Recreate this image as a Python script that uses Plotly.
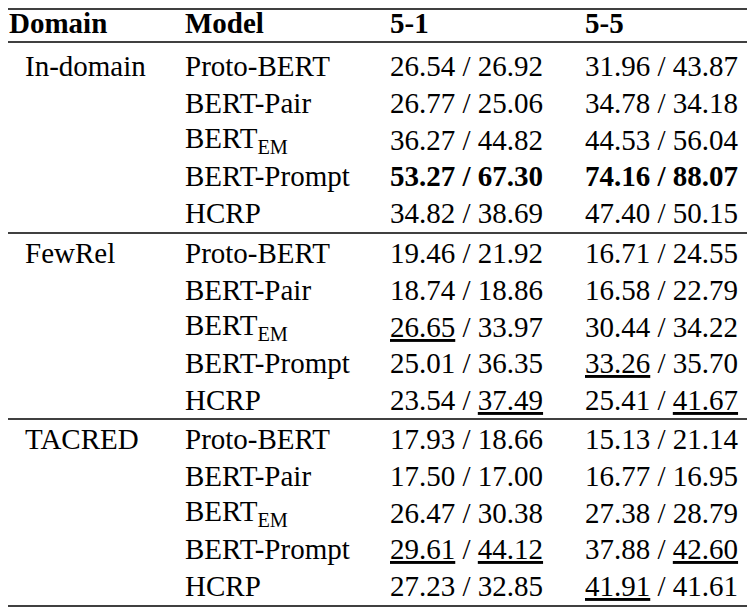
import plotly.graph_objects as go

domains = ["In-domain", "FewRel", "TACRED"]
models = ["Proto-BERT", "BERT-Pair", "BERT<sub>EM</sub>", "BERT-Prompt", "HCRP"]
headers = ["Domain", "Model", "5-1", "5-5"]

# per domain, per model: (5-1 a, 5-1 b, 5-5 a, 5-5 b)
scores = [
    [[26.54, 26.92, 31.96, 43.87],
     [26.77, 25.06, 34.78, 34.18],
     [36.27, 44.82, 44.53, 56.04],
     [53.27, 67.30, 74.16, 88.07],
     [34.82, 38.69, 47.40, 50.15]],
    [[19.46, 21.92, 16.71, 24.55],
     [18.74, 18.86, 16.58, 22.79],
     [26.65, 33.97, 30.44, 34.22],
     [25.01, 36.35, 33.26, 35.70],
     [23.54, 37.49, 25.41, 41.67]],
    [[17.93, 18.66, 15.13, 21.14],
     [17.50, 17.00, 16.77, 16.95],
     [26.47, 30.38, 27.38, 28.79],
     [29.61, 44.12, 37.88, 42.60],
     [27.23, 32.85, 41.91, 41.61]],
]
# (domain, model, value index)
bold_cells = [(0, 3, 0), (0, 3, 1), (0, 3, 2), (0, 3, 3)]
underline_cells = [(1, 2, 0), (1, 3, 2), (1, 4, 1), (1, 4, 3),
                   (2, 3, 0), (2, 3, 1), (2, 3, 3), (2, 4, 2)]

FONT = dict(family="Liberation Serif", size=29, color="black")
header_x = [0, 176, 381, 576]
col_x = [16, 176, 381, 576]
header_y = 15
group_top = [58, 245, 431]
row_step = 36.8
rule_y = [1, 34, 225, 411, 598]


def fmt(d, m, k):
    s = f"{scores[d][m][k]:.2f}"
    if (d, m, k) in bold_cells:
        s = f"<b>{s}</b>"
    if (d, m, k) in underline_cells:
        s = f"<u>{s}</u>"
    return s


fig = go.Figure()
ann = []
for h, x in zip(headers, header_x):
    ann.append(dict(x=x, y=header_y, text=f"<b>{h}</b>"))
for d, dom in enumerate(domains):
    ann.append(dict(x=col_x[0], y=group_top[d], text=dom))
    for m, mod in enumerate(models):
        y = group_top[d] + m * row_step
        ann.append(dict(x=col_x[1], y=y, text=mod))
        bold = (d, m, 0) in bold_cells
        sep = "<b> / </b>" if bold else " / "
        ann.append(dict(x=col_x[2], y=y, text=fmt(d, m, 0) + sep + fmt(d, m, 1)))
        ann.append(dict(x=col_x[3], y=y, text=fmt(d, m, 2) + sep + fmt(d, m, 3)))
for a in ann:
    a.update(xref="x", yref="y", xanchor="left", yanchor="middle",
             showarrow=False, font=FONT, borderpad=0)

shapes = [dict(type="line", xref="x", yref="y", x0=0, x1=752, y0=y, y1=y,
               line=dict(color="black", width=1.3)) for y in rule_y]

fig.update_layout(
    width=755, height=609, margin=dict(l=0, r=0, t=0, b=0),
    paper_bgcolor="white", plot_bgcolor="white",
    xaxis=dict(range=[0, 755], visible=False, fixedrange=True),
    yaxis=dict(range=[609, 0], visible=False, fixedrange=True),
    annotations=ann, shapes=shapes, showlegend=False,
)
fig.write_html("out.html")
